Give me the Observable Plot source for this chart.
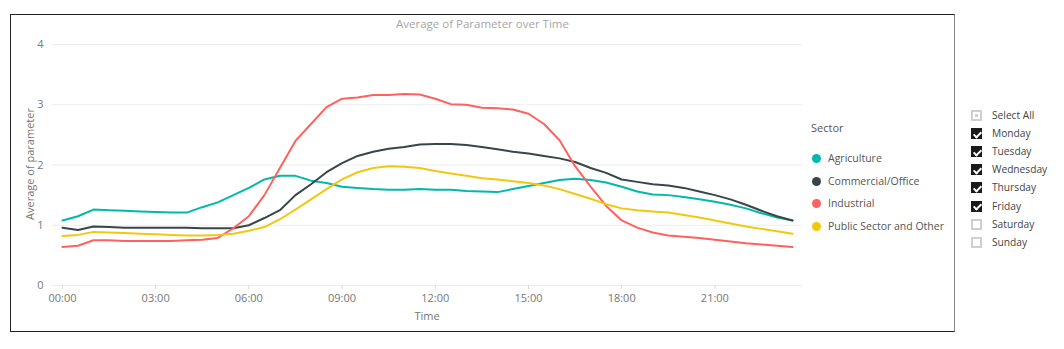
<!DOCTYPE html>
<html>
<head>
<meta charset="utf-8">
<script src="https://cdn.jsdelivr.net/npm/d3@7"></script>
<script src="https://cdn.jsdelivr.net/npm/@observablehq/plot@0.6"></script>
<style>
  html, body { margin: 0; padding: 0; background: #fff; }
  body { width: 1064px; height: 349px; position: relative; overflow: hidden; font-family: "Open Sans", "Noto Sans", sans-serif; }
  #frame { position: absolute; left: 10px; top: 14px; width: 945px; height: 318px; border: 1px solid #222; border-right-color: #888; box-sizing: border-box; }
  #chart { position: absolute; left: 0; top: 0; }
  .abs { position: absolute; white-space: nowrap; }
  #title { left: 10px; width: 945px; top: 16px; text-align: center; font-size: 11.5px; color: #a6a6a6; }
  #xtitle { left: 327px; width: 200px; top: 308px; text-align: center; font-size: 11px; color: #777; }
  #ytitle { left: 29px; top: 164px; font-size: 11px; color: #777; transform: translate(-50%, -50%) rotate(-90deg); }
  #legend { left: 811px; top: 120px; font-size: 10.5px; color: #555; }
  .li { position: absolute; left: 0; white-space: nowrap; }
  .dot { position: absolute; width: 9px; height: 9px; border-radius: 50%; }
  .sl { position: absolute; left: 971px; font-size: 10.2px; color: #444; white-space: nowrap; }
  .box { position: absolute; left: 0; top: 2px; width: 11px; height: 11px; box-sizing: border-box; }
  .box.on { background: #1a1a1a; border: 1px solid #1a1a1a; }
  .box.off { border: 2px solid #cfcfcf; background: #fff; }
  .box.part { border: 2px solid #cfcfcf; background: #fff; }
  .box.part::after { content: ""; position: absolute; left: 2px; top: 2px; width: 3px; height: 3px; background: #cfcfcf; }
  .box.on::after { content: ""; position: absolute; left: 2.5px; top: 0.5px; width: 3px; height: 6px; border: solid #fff; border-width: 0 2px 2px 0; transform: rotate(45deg); }
  .sl span { position: absolute; left: 21px; top: 0; }
</style>
</head>
<body>
<div id="frame"></div>
<div id="chart"></div>
<div id="title" class="abs">Average of Parameter over Time</div>
<div id="xtitle" class="abs">Time</div>
<div id="ytitle" class="abs">Average of parameter</div>
<div id="legend" class="abs"></div>
<div id="slicer"></div>
<script>
const times = ["00:00","00:30","01:00","01:30","02:00","02:30","03:00","03:30","04:00","04:30","05:00","05:30",
  "06:00","06:30","07:00","07:30","08:00","08:30","09:00","09:30","10:00","10:30","11:00","11:30",
  "12:00","12:30","13:00","13:30","14:00","14:30","15:00","15:30","16:00","16:30","17:00","17:30",
  "18:00","18:30","19:00","19:30","20:00","20:30","21:00","21:30","22:00","22:30","23:00","23:30"];
const sectors = ["Agriculture","Commercial/Office","Industrial","Public Sector and Other"];
const sectorColors = ["#01B8AA","#374649","#FD625E","#F2C80F"];
const agriculture = [1.08,1.15,1.26,1.25,1.24,1.23,1.22,1.21,1.21,1.30,1.38,1.50,
  1.62,1.76,1.82,1.82,1.74,1.70,1.64,1.62,1.60,1.59,1.59,1.60,
  1.59,1.59,1.57,1.56,1.55,1.60,1.65,1.70,1.75,1.77,1.75,1.71,
  1.64,1.56,1.51,1.50,1.47,1.43,1.39,1.34,1.28,1.20,1.13,1.08];
const commercial = [0.96,0.92,0.98,0.97,0.96,0.96,0.96,0.96,0.96,0.95,0.95,0.95,
  1.00,1.12,1.25,1.50,1.68,1.88,2.03,2.15,2.22,2.27,2.30,2.34,
  2.35,2.35,2.33,2.30,2.26,2.22,2.19,2.15,2.11,2.05,1.95,1.87,
  1.76,1.72,1.68,1.66,1.62,1.56,1.50,1.43,1.34,1.24,1.15,1.08];
const industrial = [0.64,0.66,0.75,0.75,0.74,0.74,0.74,0.74,0.75,0.76,0.79,0.95,
  1.15,1.50,1.95,2.40,2.68,2.96,3.10,3.12,3.16,3.16,3.18,3.17,
  3.10,3.01,3.00,2.95,2.94,2.92,2.85,2.68,2.41,1.98,1.64,1.32,
  1.08,0.96,0.88,0.83,0.81,0.79,0.76,0.73,0.70,0.68,0.66,0.64];
const publicSector = [0.82,0.84,0.89,0.88,0.87,0.86,0.85,0.84,0.83,0.83,0.84,0.86,
  0.91,0.97,1.10,1.26,1.43,1.60,1.76,1.88,1.95,1.98,1.97,1.95,
  1.90,1.86,1.82,1.78,1.76,1.73,1.70,1.66,1.60,1.52,1.44,1.35,
  1.28,1.25,1.23,1.21,1.17,1.13,1.08,1.03,0.98,0.94,0.90,0.86];
const yTicks = [0,1,2,3,4];
const xTickLabels = ["00:00","03:00","06:00","09:00","12:00","15:00","18:00","21:00"];
const days = ["Monday","Tuesday","Wednesday","Thursday","Friday","Saturday","Sunday"];
const daySelected = [true,true,true,true,true,false,false];

const toHours = t => { const [h, m] = t.split(":").map(Number); return h + m / 60; };
const seriesValues = [agriculture, commercial, industrial, publicSector];
const rows = [];
sectors.forEach((s, k) => times.forEach((t, i) => rows.push({sector: s, h: toHours(t), v: seriesValues[k][i]})));
const xTickHours = xTickLabels.map(toHours);

const chart = Plot.plot({
  width: 810, height: 349,
  marginLeft: 52, marginRight: 8, marginTop: 44, marginBottom: 64,
  style: {fontFamily: "'Open Sans', 'Noto Sans', sans-serif", fontSize: "11px", background: "transparent", overflow: "visible"},
  x: {domain: [-0.32, 23.82], label: null},
  y: {domain: [0, 4], label: null},
  color: {domain: sectors, range: sectorColors},
  marks: [
    Plot.gridY(yTicks, {stroke: "#ececec", strokeOpacity: 1, strokeWidth: 1}),
    Plot.axisY(yTicks, {tickSize: 0, tickPadding: 9, fill: "#777", label: null, tickFormat: d => String(d)}),
    Plot.axisX(xTickHours, {tickSize: 4, tickPadding: 5, stroke: "#d9d9d9", fill: "#777", label: null,
      tickFormat: h => xTickLabels[xTickHours.indexOf(h)]}),
    Plot.lineY(rows, {x: "h", y: "v", z: "sector", stroke: "sector", strokeWidth: 2})
  ]
});
document.getElementById("chart").appendChild(chart);

const legend = document.getElementById("legend");
legend.innerHTML = `<div class="li" style="top:0;font-size:11px;color:#555">Sector</div>` +
  sectors.map((s, k) => `<div class="li" style="top:${31 + k * 22.7}px"><div class="dot" style="left:1px;top:3px;background:${sectorColors[k]}"></div><span style="position:absolute;left:17px;top:0">${s}</span></div>`).join("");

const slicer = document.getElementById("slicer");
const labels = ["Select All", ...days];
slicer.innerHTML = labels.map((d, i) => {
  const cls = i === 0 ? "part" : (daySelected[i - 1] ? "on" : "off");
  return `<div class="sl" style="top:${108 + i * 18.1}px"><div class="box ${cls}"></div><span>${d}</span></div>`;
}).join("");
</script>
</body>
</html>
